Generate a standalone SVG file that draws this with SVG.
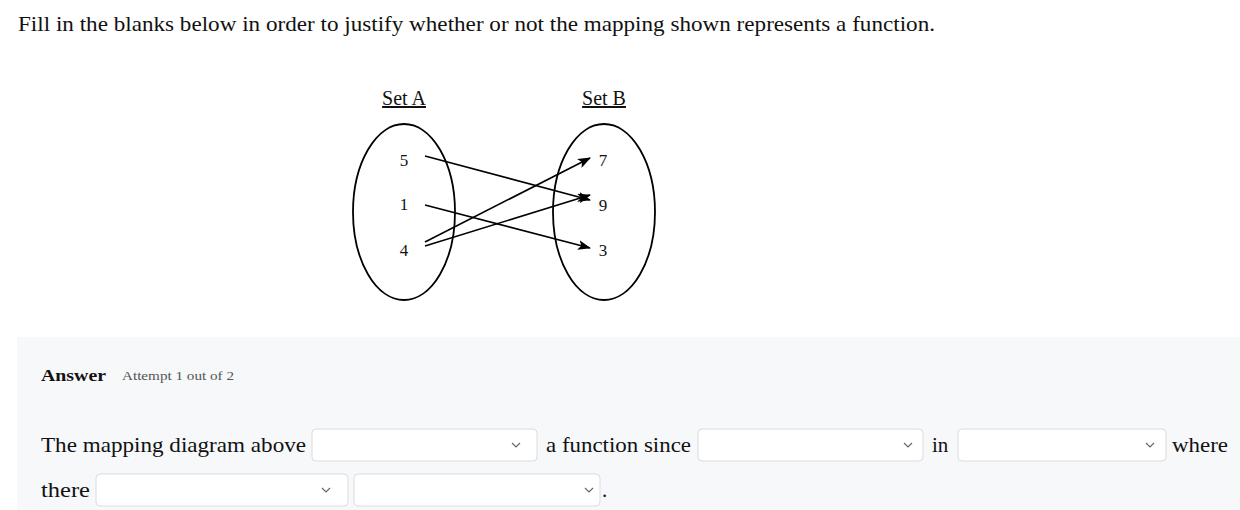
<svg xmlns="http://www.w3.org/2000/svg" width="1240" height="510" viewBox="0 0 1240 510">
<style>
.t{font-family:"Liberation Serif",serif;fill:#111}
.s{font-family:"Liberation Serif",serif;fill:#111}
.box{fill:#fff;stroke:#d9dce1;stroke-width:1}
.chev{fill:none;stroke:#666;stroke-width:1.2}
.ar{stroke:#000;stroke-width:1.6;fill:none;marker-end:url(#ah)}
</style>
<defs><marker id="ah" markerWidth="13" markerHeight="10" refX="12" refY="5" orient="auto" markerUnits="userSpaceOnUse"><path d="M0,0 L13,5 L0,10 L3,5 Z" fill="#000"/></marker></defs>
<rect width="1240" height="510" fill="#fff"/>
<text class="t" x="18" y="31" font-size="21" textLength="917" lengthAdjust="spacingAndGlyphs">Fill in the blanks below in order to justify whether or not the mapping shown represents a function.</text>
<g id="setA">
<text class="s" x="404" y="105" font-size="20" text-anchor="middle" text-decoration="underline">Set A</text>
<ellipse cx="404" cy="212" rx="51" ry="88" fill="none" stroke="#000" stroke-width="1.8"/>
<text class="s" x="404" y="166" font-size="17" text-anchor="middle">5</text>
<text class="s" x="404" y="210" font-size="17" text-anchor="middle">1</text>
<text class="s" x="404" y="256" font-size="17" text-anchor="middle">4</text>
</g>
<g id="setB">
<text class="s" x="604" y="105" font-size="20" text-anchor="middle" text-decoration="underline">Set B</text>
<ellipse cx="604" cy="212" rx="51" ry="88" fill="none" stroke="#000" stroke-width="1.8"/>
<text class="s" x="603" y="166" font-size="17" text-anchor="middle">7</text>
<text class="s" x="603" y="211" font-size="17" text-anchor="middle">9</text>
<text class="s" x="603" y="256" font-size="17" text-anchor="middle">3</text>
</g>
<g id="connectors">
<line class="ar" x1="425" y1="156" x2="590" y2="200"/>
<line class="ar" x1="425" y1="205" x2="590" y2="248"/>
<line class="ar" x1="425" y1="242" x2="590" y2="158"/>
<line class="ar" x1="425" y1="246" x2="590" y2="195"/>
</g>
<g id="answer">
<rect x="17" y="337" width="1223" height="173" fill="#f7f8fa"/>
<text class="t" x="41" y="381" font-size="17" font-weight="bold" textLength="65" lengthAdjust="spacingAndGlyphs">Answer</text>
<text class="t" x="122" y="380" font-size="13" style="fill:#555" textLength="112" lengthAdjust="spacingAndGlyphs">Attempt 1 out of 2</text>
<text class="t" x="41" y="452" font-size="21" textLength="265" lengthAdjust="spacingAndGlyphs">The mapping diagram above</text>
<rect class="box" x="312" y="429" width="225" height="32" rx="4"/>
<path class="chev" d="M512,443 l4,4 l4,-4"/>
<text class="t" x="546" y="452" font-size="21" textLength="145" lengthAdjust="spacingAndGlyphs">a function since</text>
<rect class="box" x="698" y="429" width="225" height="32" rx="4"/>
<path class="chev" d="M904,443 l4,4 l4,-4"/>
<text class="t" x="932" y="452" font-size="21">in</text>
<rect class="box" x="958" y="429" width="208" height="32" rx="4"/>
<path class="chev" d="M1146,443 l4,4 l4,-4"/>
<text class="t" x="1172" y="452" font-size="21" textLength="56" lengthAdjust="spacingAndGlyphs">where</text>
<text class="t" x="41" y="497" font-size="21" textLength="49" lengthAdjust="spacingAndGlyphs">there</text>
<rect class="box" x="96" y="474" width="252" height="32" rx="4"/>
<path class="chev" d="M322,488 l4,4 l4,-4"/>
<rect class="box" x="354" y="474" width="246" height="32" rx="4"/>
<path class="chev" d="M585,488 l4,4 l4,-4"/>
<text class="t" x="602" y="497" font-size="21">.</text>
</g>
</svg>
